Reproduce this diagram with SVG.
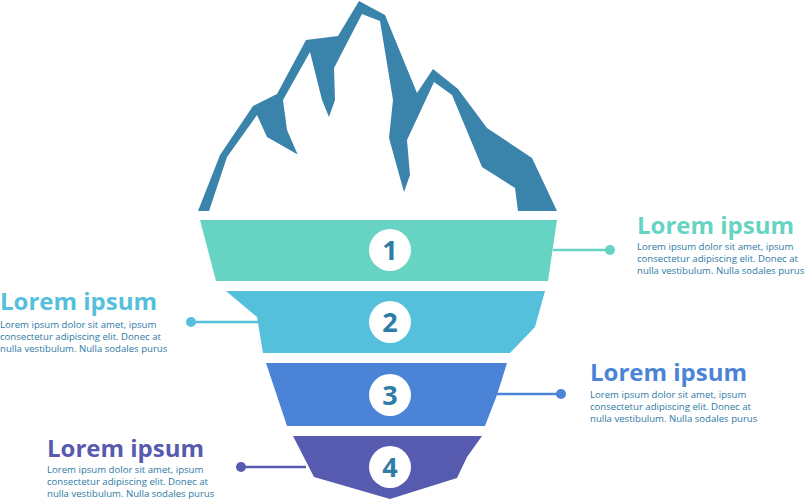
<svg xmlns="http://www.w3.org/2000/svg" width="809" height="500" viewBox="0 0 809 500">
<style>
.t{font-family:"Open Sans","Liberation Sans",sans-serif;font-weight:700;font-size:24px}
.b{font-family:"Open Sans","Liberation Sans",sans-serif;font-size:9.6px;fill:#2e7aa6}
.n{font-family:"Open Sans","Liberation Sans",sans-serif;font-weight:700;font-size:27px;fill:#2f7ca6;text-anchor:middle}
</style>
<rect width="809" height="500" fill="#fff"/>
<g id="mountain">
<polygon fill="#3a84ab" points="198,211 220,155 253,106 277,94 306,40 338,36 359,1 385,15 417,93 433,69 458,89 487,128 532,158 557,211"/>
<polygon fill="#fff" points="209,211 227,157 257,115 267,137 302,157 310,183 287,130 283,100 310,52 322,100 329,117 335,100 334,68 362,14 380,21 393,100 389,138 404,192 410,175 407,140 434,82 452,95 482,167 515,188 518,211"/>
</g>
<g id="layer1">
<polygon fill="#67d3c3" points="200,220 557,220 548,281 216,281"/>
<circle cx="390" cy="250" r="21" fill="#fff"/><text class="n" x="390" y="260">1</text>
</g>
<g id="layer2">
<polygon fill="#55c0dc" points="226,291 545,291 535,327 510,353 263,353 257,317"/>
<circle cx="390" cy="322" r="21" fill="#fff"/><text class="n" x="390" y="332">2</text>
</g>
<g id="layer3">
<polygon fill="#4b84d6" points="266,363 507,363 497,395 485,426 287,426"/>
<circle cx="390" cy="395" r="21" fill="#fff"/><text class="n" x="390" y="405">3</text>
</g>
<g id="layer4">
<polygon fill="#575bb0" points="293,436 482,436 467,457 457,478 390,499 314,477"/>
<circle cx="390" cy="467" r="21" fill="#fff"/><text class="n" x="390" y="477">4</text>
</g>
<g id="connectors" stroke-width="2.5">
<line x1="553" y1="250" x2="610" y2="250" stroke="#67d3c3"/><circle cx="610" cy="250" r="5" fill="#67d3c3"/>
<line x1="191" y1="322" x2="258" y2="322" stroke="#55c0dc"/><circle cx="191" cy="322" r="5" fill="#55c0dc"/>
<line x1="497" y1="394" x2="561" y2="394" stroke="#4b84d6"/><circle cx="561" cy="394" r="5" fill="#4b84d6"/>
<line x1="241" y1="467" x2="306" y2="467" stroke="#575bb0"/><circle cx="241" cy="467" r="5" fill="#575bb0"/>
</g>
<g id="text1">
<text class="t" x="637" y="234" fill="#67d3c3">Lorem ipsum</text>
<text class="b" x="637" y="250">Lorem ipsum dolor sit amet, ipsum</text>
<text class="b" x="637" y="262">consectetur adipiscing elit. Donec at</text>
<text class="b" x="637" y="274">nulla vestibulum. Nulla sodales purus</text>
</g>
<g id="text2">
<text class="t" x="0" y="310" fill="#55c0dc">Lorem ipsum</text>
<text class="b" x="0" y="328">Lorem ipsum dolor sit amet, ipsum</text>
<text class="b" x="0" y="340">consectetur adipiscing elit. Donec at</text>
<text class="b" x="0" y="352">nulla vestibulum. Nulla sodales purus</text>
</g>
<g id="text3">
<text class="t" x="590" y="381" fill="#4b84d6">Lorem ipsum</text>
<text class="b" x="590" y="398">Lorem ipsum dolor sit amet, ipsum</text>
<text class="b" x="590" y="410">consectetur adipiscing elit. Donec at</text>
<text class="b" x="590" y="422">nulla vestibulum. Nulla sodales purus</text>
</g>
<g id="text4">
<text class="t" x="47" y="457" fill="#575bb0">Lorem ipsum</text>
<text class="b" x="47" y="473">Lorem ipsum dolor sit amet, ipsum</text>
<text class="b" x="47" y="485">consectetur adipiscing elit. Donec at</text>
<text class="b" x="47" y="497">nulla vestibulum. Nulla sodales purus</text>
</g>
</svg>
